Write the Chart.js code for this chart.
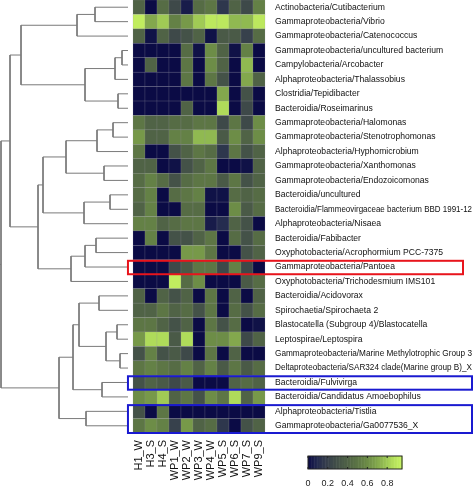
<!DOCTYPE html>
<html>
<head>
<meta charset="utf-8">
<script src="https://cdn.jsdelivr.net/npm/chart.js@4/dist/chart.umd.min.js"></script>
<style>
  body { margin: 0; background: #fff; }
  #wrap { width: 474px; height: 486px; }
</style>
</head>
<body>
<div id="wrap"><canvas id="chart"></canvas></div>
<script>
// Data
const samples = ['H1_W', 'H3_S', 'H4_S', 'WP1_W', 'WP2_W', 'WP3_W', 'WP4_W', 'WP5_S', 'WP6_S', 'WP7_S', 'WP9_S']

const taxa = [
  'Actinobacteria/Cutibacterium',
  'Gammaproteobacteria/Vibrio',
  'Gammaproteobacteria/Catenococcus',
  'Gammaproteobacteria/uncultured bacterium',
  'Campylobacteria/Arcobacter',
  'Alphaproteobacteria/Thalassobius',
  'Clostridia/Tepidibacter',
  'Bacteroidia/Roseimarinus',
  'Gammaproteobacteria/Halomonas',
  'Gammaproteobacteria/Stenotrophomonas',
  'Alphaproteobacteria/Hyphomicrobium',
  'Gammaproteobacteria/Xanthomonas',
  'Gammaproteobacteria/Endozoicomonas',
  'Bacteroidia/uncultured',
  'Bacteroidia/Flammeovirgaceae bacterium BBD 1991-12',
  'Alphaproteobacteria/Nisaea',
  'Bacteroidia/Fabibacter',
  'Oxyphotobacteria/Acrophormium PCC-7375',
  'Gammaproteobacteria/Pantoea',
  'Oxyphotobacteria/Trichodesmium IMS101',
  'Bacteroidia/Acidovorax',
  'Spirochaetia/Spirochaeta 2',
  'Blastocatella (Subgroup 4)/Blastocatella',
  'Leptospirae/Leptospira',
  'Gammaproteobacteria/Marine Methylotrophic Group 3',
  'Deltaproteobacteria/SAR324 clade(Marine group B)_X',
  'Bacteroidia/Fulvivirga',
  'Bacteroidia/Candidatus Amoebophilus',
  'Alphaproteobacteria/Tistlia',
  'Gammaproteobacteria/Ga0077536_X'
]

// Nilai relatif per baris (urutan kolom = samples)
const values = [
  [0.40, 0.00, 0.45, 0.25, 0.05, 0.45, 0.50, 0.15, 0.40, 0.25, 0.55],
  [0.92, 0.70, 0.80, 0.55, 0.65, 0.80, 0.90, 0.90, 0.75, 0.75, 0.90],
  [0.40, 0.02, 0.40, 0.25, 0.30, 0.40, 0.02, 0.35, 0.35, 0.20, 0.45],
  [0.00, 0.00, 0.00, 0.00, 0.45, 0.02, 0.60, 0.40, 0.02, 0.55, 0.00],
  [0.00, 0.40, 0.00, 0.00, 0.50, 0.00, 0.60, 0.40, 0.00, 0.75, 0.00],
  [0.00, 0.00, 0.00, 0.00, 0.50, 0.00, 0.50, 0.30, 0.00, 0.70, 0.40],
  [0.00, 0.00, 0.00, 0.00, 0.00, 0.00, 0.00, 0.70, 0.00, 0.30, 0.00],
  [0.00, 0.00, 0.00, 0.00, 0.40, 0.00, 0.00, 0.85, 0.00, 0.25, 0.00],
  [0.50, 0.40, 0.40, 0.45, 0.45, 0.50, 0.50, 0.25, 0.50, 0.25, 0.60],
  [0.65, 0.40, 0.40, 0.55, 0.55, 0.75, 0.75, 0.35, 0.60, 0.40, 0.60],
  [0.50, 0.00, 0.00, 0.30, 0.40, 0.50, 0.45, 0.15, 0.50, 0.30, 0.40],
  [0.40, 0.40, 0.00, 0.02, 0.30, 0.40, 0.50, 0.00, 0.00, 0.02, 0.40],
  [0.45, 0.55, 0.45, 0.30, 0.45, 0.50, 0.50, 0.35, 0.50, 0.30, 0.40],
  [0.45, 0.55, 0.00, 0.45, 0.50, 0.55, 0.02, 0.02, 0.45, 0.40, 0.45],
  [0.40, 0.55, 0.00, 0.00, 0.45, 0.45, 0.00, 0.00, 0.60, 0.35, 0.45],
  [0.55, 0.55, 0.40, 0.45, 0.50, 0.50, 0.05, 0.10, 0.40, 0.30, 0.00],
  [0.00, 0.55, 0.00, 0.30, 0.30, 0.40, 0.50, 0.00, 0.45, 0.30, 0.45],
  [0.00, 0.00, 0.00, 0.00, 0.65, 0.65, 0.50, 0.00, 0.00, 0.30, 0.40],
  [0.00, 0.00, 0.00, 0.25, 0.35, 0.50, 0.50, 0.25, 0.55, 0.25, 0.00],
  [0.00, 0.00, 0.00, 0.92, 0.45, 0.60, 0.00, 0.00, 0.00, 0.35, 0.45],
  [0.40, 0.00, 0.40, 0.30, 0.40, 0.00, 0.50, 0.00, 0.40, 0.00, 0.40],
  [0.40, 0.40, 0.50, 0.40, 0.45, 0.30, 0.50, 0.00, 0.45, 0.30, 0.45],
  [0.50, 0.50, 0.40, 0.30, 0.40, 0.00, 0.50, 0.30, 0.45, 0.00, 0.02],
  [0.65, 0.85, 0.85, 0.35, 0.85, 0.00, 0.60, 0.60, 0.70, 0.25, 0.40],
  [0.30, 0.55, 0.30, 0.35, 0.25, 0.00, 0.50, 0.00, 0.40, 0.00, 0.00],
  [0.50, 0.55, 0.50, 0.45, 0.55, 0.40, 0.55, 0.35, 0.50, 0.35, 0.45],
  [0.30, 0.40, 0.35, 0.25, 0.35, 0.00, 0.00, 0.00, 0.40, 0.45, 0.40],
  [0.60, 0.65, 0.80, 0.40, 0.50, 0.30, 0.60, 0.50, 0.85, 0.40, 0.65],
  [0.30, 0.00, 0.50, 0.00, 0.00, 0.00, 0.00, 0.00, 0.00, 0.00, 0.00],
  [0.50, 0.60, 0.55, 0.20, 0.65, 0.40, 0.45, 0.15, 0.00, 0.30, 0.40]
]

// Dendrogram: [kiri, kanan, tinggi]; id baru = 30, 31, ...
const merges = [
  [0, 1, 33],    // 30
  [30, 2, 51],   // 31
  [3, 4, 6],     // 32
  [32, 5, 13],   // 33
  [6, 7, 10],    // 34
  [33, 34, 43],  // 35
  [31, 35, 107], // 36
  [8, 9, 15],    // 37
  [37, 10, 31],  // 38
  [11, 12, 24],  // 39
  [38, 39, 62],  // 40
  [13, 14, 18],  // 41
  [41, 15, 44],  // 42
  [40, 42, 85],  // 43
  [16, 17, 32],  // 44
  [44, 18, 43],  // 45
  [45, 19, 57],  // 46
  [43, 46, 90],  // 47
  [36, 47, 118], // 48
  [20, 21, 29],  // 49
  [22, 23, 11],  // 50
  [24, 25, 8],   // 51
  [50, 51, 22],  // 52
  [49, 52, 49],  // 53
  [26, 27, 26],  // 54
  [53, 54, 55],  // 55
  [28, 29, 42],  // 56
  [55, 56, 69],  // 57
  [48, 57, 127]  // 58
]

const colorStops = ['#0b0b45', '#242b4f', '#363f4c', '#424f48', '#4d5f46', '#597045', '#678546', '#7a9d4a', '#93bc52', '#b1dd5a', '#c8f562']
const legendTicks = [0, 0.2, 0.4, 0.6, 0.8]

// Fungsi warna
function hexToRgb(h) {
  return [parseInt(h.slice(1, 3), 16), parseInt(h.slice(3, 5), 16), parseInt(h.slice(5, 7), 16)]
}
function colorFor(v) {
  const t = Math.max(0, Math.min(1, v / 0.95)) * (colorStops.length - 1)
  const i = Math.min(colorStops.length - 2, Math.floor(t))
  const f = t - i
  const a = hexToRgb(colorStops[i]), b = hexToRgb(colorStops[i + 1])
  const c = a.map((x, k) => Math.round(x + (b[k] - x) * f))
  return `rgb(${c[0]},${c[1]},${c[2]})`
}

// Segmen dendrogram dari merges
const nodeY = taxa.map((_, i) => i + 0.5)
const nodeH = taxa.map(() => 0)
const dendroPoints = []
merges.forEach(([a, b, h]) => {
  dendroPoints.push({ x: nodeH[a], y: nodeY[a] }, { x: h, y: nodeY[a] }, { x: h, y: nodeY[b] }, { x: nodeH[b], y: nodeY[b] }, { x: NaN, y: NaN })
  nodeY.push((nodeY[a] + nodeY[b]) / 2)
  nodeH.push(h)
})
const root = merges.length + taxa.length - 1
dendroPoints.push({ x: nodeH[root], y: nodeY[root] }, { x: nodeH[root] + 3, y: nodeY[root] })

// Plugin heatmap + teks
const heatmapPlugin = {
  id: 'heatmap',
  beforeDatasetsDraw(chart) {
    const { ctx } = chart
    const x = chart.scales.x, y = chart.scales.y
    values.forEach((row, r) => {
      row.forEach((v, c) => {
        const x0 = x.getPixelForValue(c), x1 = x.getPixelForValue(c + 1)
        const y0 = y.getPixelForValue(r), y1 = y.getPixelForValue(r + 1)
        ctx.fillStyle = colorFor(v)
        ctx.fillRect(x0, y0, x1 - x0, y1 - y0)
        ctx.strokeStyle = 'rgba(150,150,160,0.35)'
        ctx.lineWidth = 0.5
        ctx.strokeRect(x0, y0, x1 - x0, y1 - y0)
      })
    })
  },
  afterDatasetsDraw(chart) {
    const { ctx } = chart
    const x = chart.scales.x, y = chart.scales.y
    const right = x.getPixelForValue(samples.length)
    ctx.save()
    ctx.fillStyle = '#111'
    ctx.font = '8.6px "Liberation Sans", Arial, sans-serif'
    ctx.textBaseline = 'middle'
    taxa.forEach((t, r) => ctx.fillText(t, right + 10, y.getPixelForValue(r + 0.5), 197))

    // Label kolom (vertikal)
    const bottom = y.getPixelForValue(taxa.length)
    ctx.font = '11px "Liberation Sans", Arial, sans-serif'
    ctx.textAlign = 'right'
    samples.forEach((s, c) => {
      ctx.save()
      ctx.translate(x.getPixelForValue(c + 0.5), bottom + 7)
      ctx.rotate(-Math.PI / 2)
      ctx.fillText(s, 0, 0)
      ctx.restore()
    })

    // Kotak sorotan
    ctx.lineWidth = 2
    const box = (r0, r1, color, xr) => {
      ctx.strokeStyle = color
      const y0 = y.getPixelForValue(r0), y1 = y.getPixelForValue(r1)
      const x0 = x.getPixelForValue(-0.42)
      ctx.strokeRect(x0, y0 + 1, xr - x0, y1 - y0 - 1)
    }
    box(18, 19, '#e8141c', 463)
    box(26, 27, '#1a1ad0', 472)
    box(28, 30, '#1a1ad0', 472)

    // Colorbar
    const cbL = 308, cbR = 402, cbT = 456, cbB = 469, vmax = 0.95
    const steps = 60
    for (let i = 0; i < steps; i++) {
      ctx.fillStyle = colorFor((i + 0.5) / steps * vmax)
      ctx.fillRect(cbL + (cbR - cbL) * i / steps, cbT, (cbR - cbL) / steps + 0.5, cbB - cbT)
    }
    ctx.strokeStyle = '#222'
    ctx.lineWidth = 1
    ctx.strokeRect(cbL, cbT, cbR - cbL, cbB - cbT)
    ctx.font = '9px "Liberation Sans", Arial, sans-serif'
    ctx.textAlign = 'center'
    ctx.textBaseline = 'top'
    ctx.fillStyle = '#222'
    legendTicks.forEach(t => {
      const px = cbL + (cbR - cbL) * t / vmax
      ctx.beginPath()
      ctx.moveTo(px, cbT); ctx.lineTo(px, cbT + 2)
      ctx.moveTo(px, cbB); ctx.lineTo(px, cbB - 2)
      ctx.stroke()
      ctx.fillText(String(t), px, 479)
    })
    ctx.restore()
  }
}

function initializeChart() {
  // x: 12 px per kolom, heatmap mulai di px 133
  const colPx = 12, heatLeft = 133, width = 474
  new Chart(document.getElementById('chart'), {
    type: 'scatter',
    data: {
      datasets: [{
        data: dendroPoints,
        xAxisID: 'xd',
        showLine: true,
        spanGaps: false,
        borderColor: '#7a7a7a',
        borderWidth: 1,
        pointRadius: 0
      }]
    },
    options: {
      responsive: true,
      maintainAspectRatio: false,
      animation: false,
      layout: { padding: { left: 0, right: 0, top: 0, bottom: 53 } },
      plugins: { legend: { display: false }, tooltip: { enabled: false } },
      scales: {
        x: { type: 'linear', display: false, min: -heatLeft / colPx, max: (width - heatLeft) / colPx },
        xd: { type: 'linear', display: false, reverse: true, min: 128 - width, max: 128 },
        y: { type: 'linear', display: false, reverse: true, min: 0, max: taxa.length }
      }
    },
    plugins: [heatmapPlugin]
  })
}

window.addEventListener('load', () => {
  initializeChart()
})
</script>
</body>
</html>
